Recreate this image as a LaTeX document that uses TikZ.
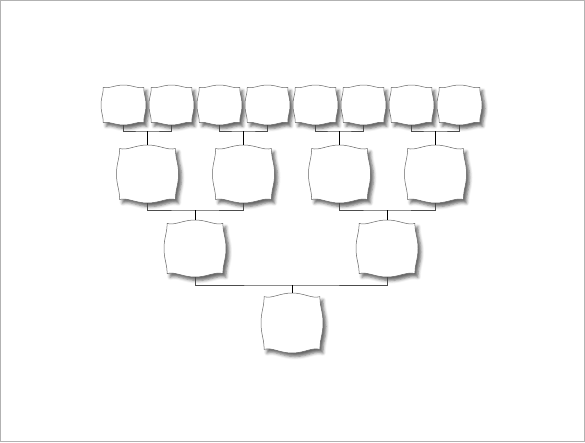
\documentclass[tikz,border=0pt]{standalone}
\usetikzlibrary{shadows.blur}
\begin{document}
\begin{tikzpicture}[x=1pt,y=1pt,
    plaque/.style={draw=black!60,line width=0.5pt,fill=white,
      blur shadow={shadow xshift=3pt,shadow yshift=-3.5pt,shadow blur radius=3pt,shadow opacity=60}},
    link/.style={draw=black!70,line width=0.5pt},
    stub/.style={draw=black,line width=0.9pt}]
    \useasboundingbox (0,0) rectangle (585,-442);
    \draw[black!30,line width=1pt] (0.5,-0.5) rectangle (584.5,-441.5);
    % family members: name / centre x / centre y / half width / half height
    \foreach \n/\cx/\cy/\w/\h in {
        ggpa/123.5/105/22.5/20, ggpb/171.5/105/22.5/20, ggpc/219.5/105/22.5/20, ggpd/267.5/105/22.5/20,
        ggpe/315.5/105/22.5/20, ggpf/363.5/105/22.5/20, ggpg/411.5/105/22.5/20, ggph/459.5/105/22.5/20,
        gpa/147.5/174/31/29, gpb/243.5/174/31/29, gpc/339.5/174/31/29, gpd/435.5/174/31/29,
        pa/195/248.5/31/28.5, pb/387/248.5/31/28.5,
        me/292/323/31/30}{
        \draw[plaque,shift={(\cx,-\cy)},x=\w pt,y=\h pt]
            (-0.9,0.88) .. controls (-0.65,0.8) and (-0.4,1) .. (0,1)
            .. controls (0.4,1) and (0.65,0.8) .. (0.9,0.88)
            .. controls (0.9,0.5) and (1,0.4) .. (1,0)
            .. controls (1,-0.4) and (0.9,-0.5) .. (0.9,-0.88)
            .. controls (0.65,-0.8) and (0.4,-1) .. (0,-1)
            .. controls (-0.4,-1) and (-0.65,-0.8) .. (-0.9,-0.88)
            .. controls (-0.9,-0.5) and (-1,-0.4) .. (-1,0)
            .. controls (-1,0.4) and (-0.9,0.5) .. cycle;
        \node[inner sep=0pt,minimum width=2*\w pt,minimum height=2*\h pt] (\n) at (\cx,-\cy) {};
    }
    % branches
    \foreach \l/\r/\c/\y in {ggpa/ggpb/gpa/131, ggpc/ggpd/gpb/131, ggpe/ggpf/gpc/131, ggpg/ggph/gpd/131,
        gpa/gpb/pa/210, gpc/gpd/pb/210, pa/pb/me/285}{
        \coordinate (j\c) at (\c.north |- 0,-\y);
        \draw[link] (\l.south) |- (j\c) -| (\r.south);
        \draw[stub] (j\c) -- (\c.north);
    }
\end{tikzpicture}
\end{document}
